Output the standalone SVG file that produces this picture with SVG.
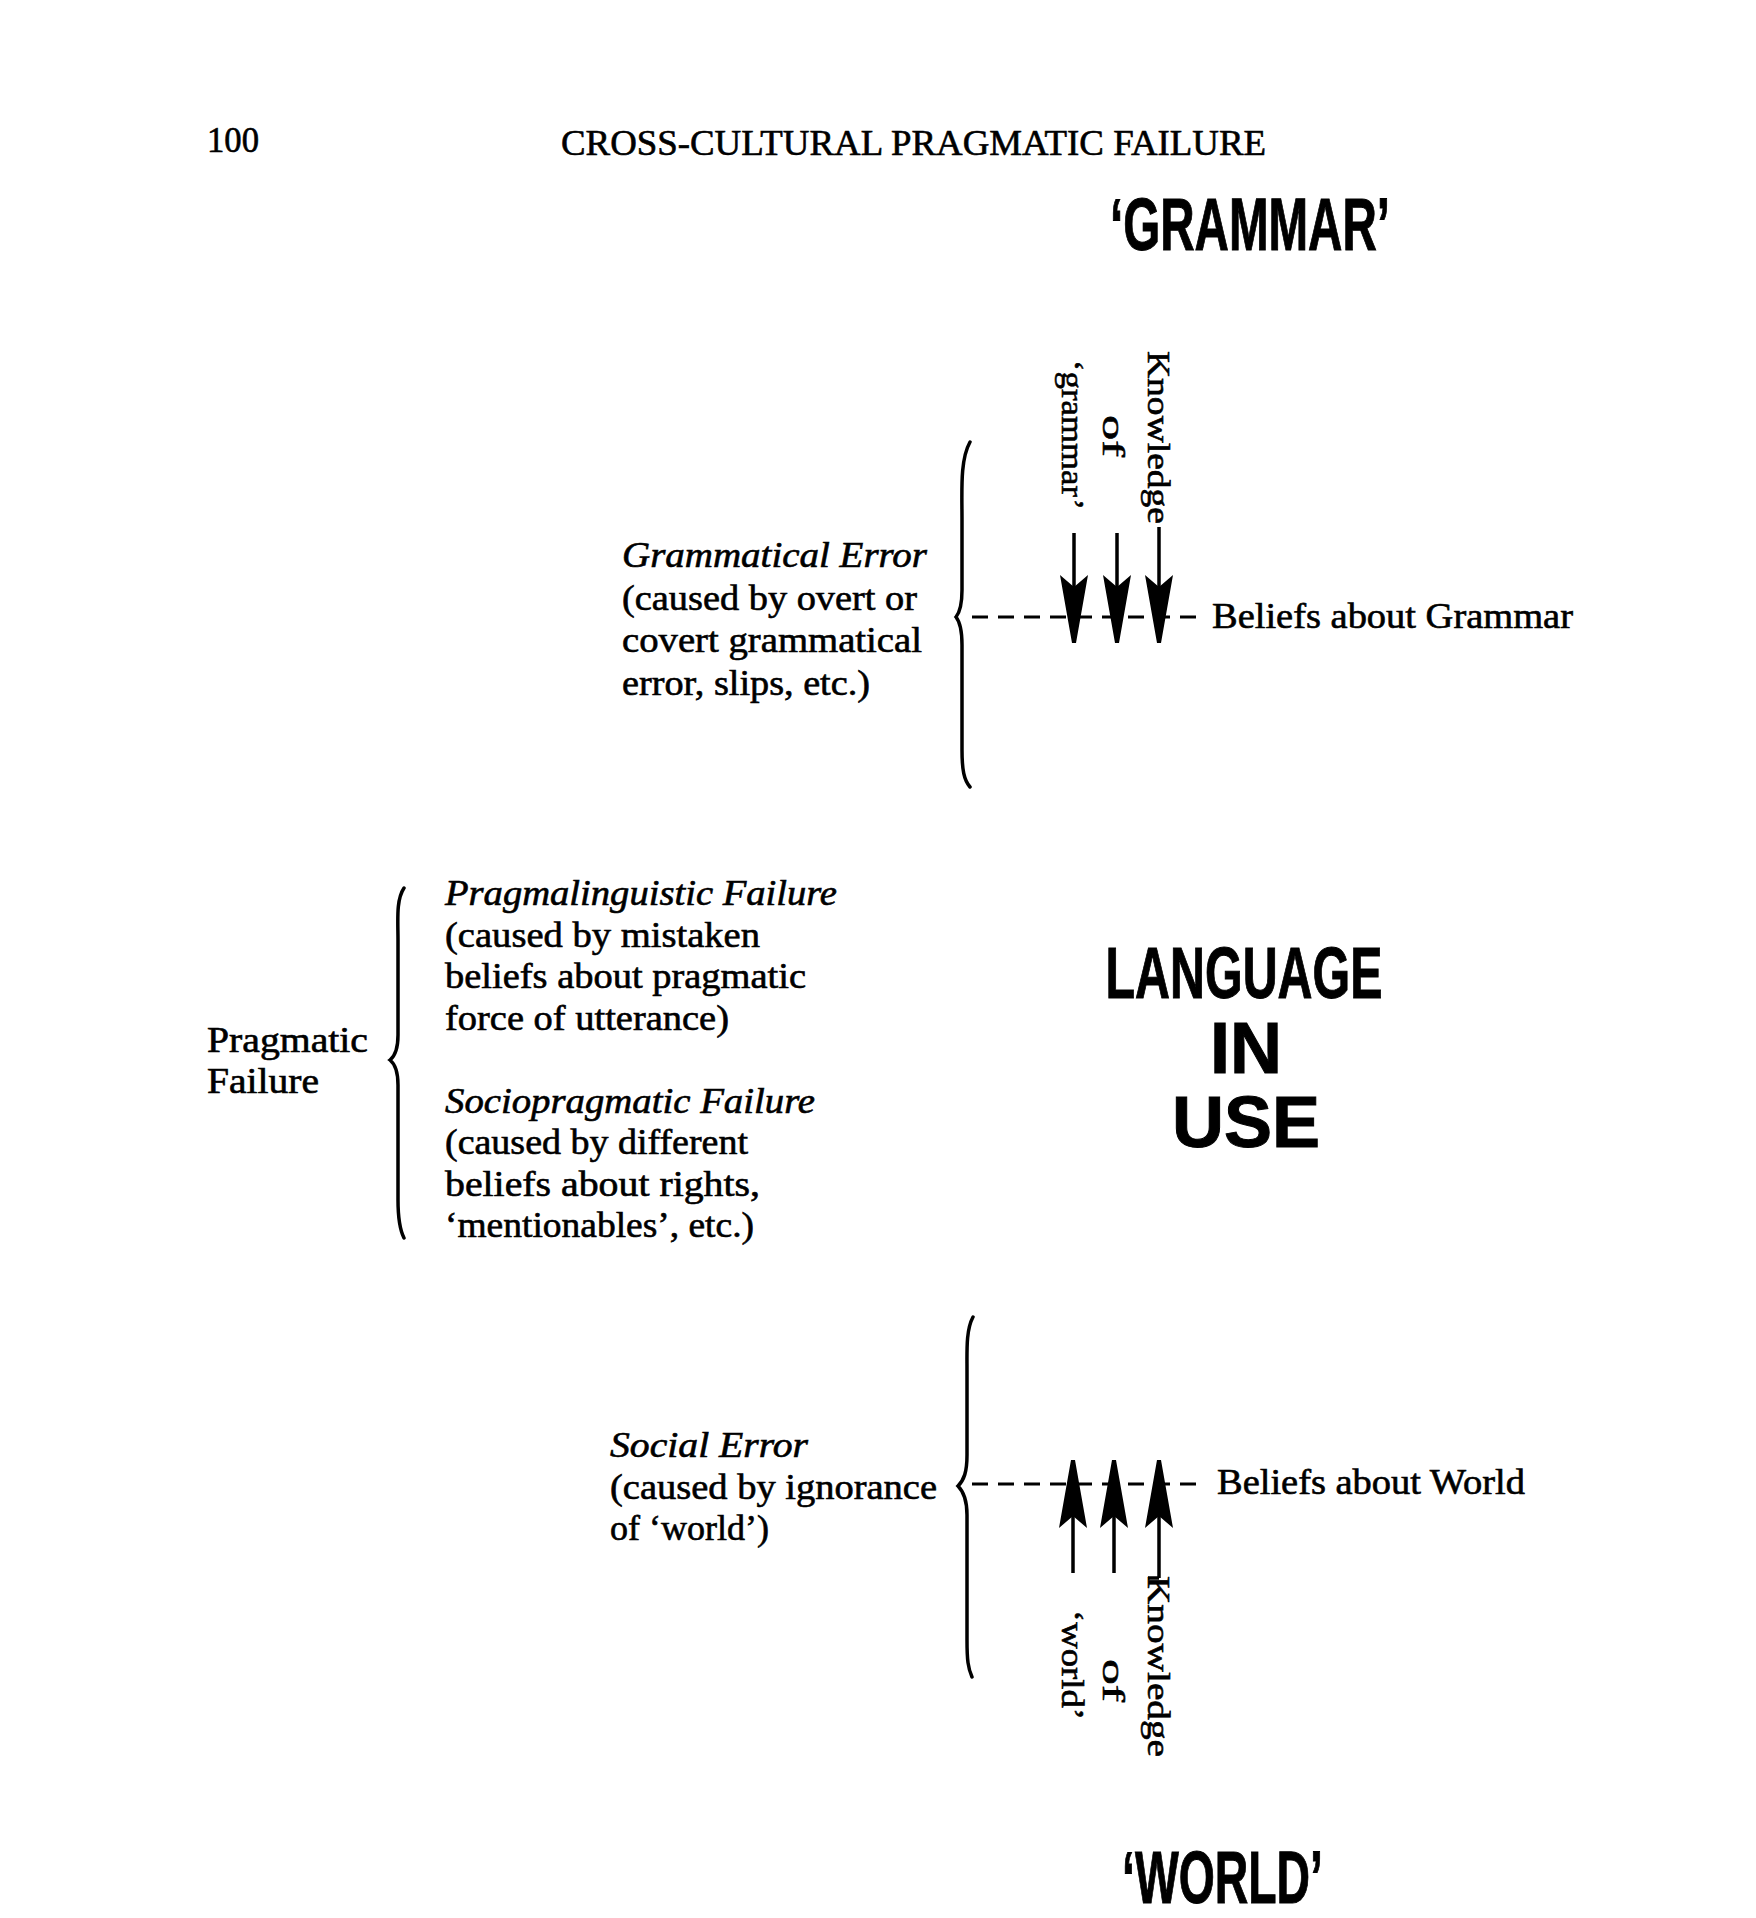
<svg xmlns="http://www.w3.org/2000/svg" width="1756" height="1918" viewBox="0 0 1756 1918">
<style>
.t{font-family:"Liberation Serif","Times New Roman",serif;font-size:35px;fill:#000;stroke:#000;stroke-width:0.6}
.i{font-style:italic}
.big{font-family:"Liberation Sans Narrow","Liberation Sans",Arial,sans-serif;font-weight:bold;fill:#000;stroke:#000;stroke-width:1}
.v{font-family:"Liberation Serif","Times New Roman",serif;font-size:32px;fill:#000;stroke:#000;stroke-width:0.6}
.br{fill:none;stroke:#000;stroke-width:3.5;stroke-linecap:round}
.sh{stroke:#000;stroke-width:3.5}
.dash{stroke:#000;stroke-width:3;stroke-dasharray:16 10}
</style>
<defs>
<polygon id="headDown" points="-14,0 0,12 14,0 2,68 -2,68" fill="#000"/>
</defs>
<rect width="1756" height="1918" fill="#fff"/>
<g id="header">
<text class="t" x="207" y="152" textLength="52" lengthAdjust="spacingAndGlyphs">100</text>
<text class="t" x="561" y="155" textLength="705" lengthAdjust="spacingAndGlyphs">CROSS-CULTURAL PRAGMATIC FAILURE</text>
</g>
<g id="grammar-title"><text class="big" x="1110" y="250" font-size="74" textLength="280" lengthAdjust="spacingAndGlyphs">‘GRAMMAR’</text></g>
<g id="language-in-use">
<text class="big" x="1244" y="998" font-size="72" text-anchor="middle" textLength="277" lengthAdjust="spacingAndGlyphs">LANGUAGE</text>
<text class="big" x="1246" y="1073" font-size="72" text-anchor="middle">IN</text>
<text class="big" x="1246" y="1147" font-size="72" text-anchor="middle">USE</text>
</g>
<g id="world-title"><text class="big" x="1122" y="1903" font-size="74" textLength="201" lengthAdjust="spacingAndGlyphs">‘WORLD’</text></g>
<g id="grammatical-error">
<text class="t i" x="622" y="567" textLength="305" lengthAdjust="spacingAndGlyphs">Grammatical Error</text>
<text class="t" x="622" y="610" textLength="295" lengthAdjust="spacingAndGlyphs">(caused by overt or</text>
<text class="t" x="622" y="652" textLength="300" lengthAdjust="spacingAndGlyphs">covert grammatical</text>
<text class="t" x="622" y="695" textLength="248" lengthAdjust="spacingAndGlyphs">error, slips, etc.)</text>
</g>
<g id="pragmatic-failure">
<text class="t" x="207" y="1052" textLength="161" lengthAdjust="spacingAndGlyphs">Pragmatic</text>
<text class="t" x="207" y="1093" textLength="112" lengthAdjust="spacingAndGlyphs">Failure</text>
</g>
<g id="pragmalinguistic">
<text class="t i" x="445" y="905" textLength="392" lengthAdjust="spacingAndGlyphs">Pragmalinguistic Failure</text>
<text class="t" x="445" y="947" textLength="315" lengthAdjust="spacingAndGlyphs">(caused by mistaken</text>
<text class="t" x="445" y="988" textLength="361" lengthAdjust="spacingAndGlyphs">beliefs about pragmatic</text>
<text class="t" x="445" y="1030" textLength="284" lengthAdjust="spacingAndGlyphs">force of utterance)</text>
</g>
<g id="sociopragmatic">
<text class="t i" x="445" y="1113" textLength="370" lengthAdjust="spacingAndGlyphs">Sociopragmatic Failure</text>
<text class="t" x="445" y="1154" textLength="303" lengthAdjust="spacingAndGlyphs">(caused by different</text>
<text class="t" x="445" y="1196" textLength="315" lengthAdjust="spacingAndGlyphs">beliefs about rights,</text>
<text class="t" x="445" y="1237" textLength="309" lengthAdjust="spacingAndGlyphs">‘mentionables’, etc.)</text>
</g>
<g id="social-error">
<text class="t i" x="610" y="1457" textLength="198" lengthAdjust="spacingAndGlyphs">Social Error</text>
<text class="t" x="610" y="1499" textLength="327" lengthAdjust="spacingAndGlyphs">(caused by ignorance</text>
<text class="t" x="610" y="1540" textLength="159" lengthAdjust="spacingAndGlyphs">of ‘world’)</text>
</g>
<g id="beliefs-grammar"><text class="t" x="1212" y="628" textLength="361" lengthAdjust="spacingAndGlyphs">Beliefs about Grammar</text></g>
<g id="beliefs-world"><text class="t" x="1217" y="1494" textLength="308" lengthAdjust="spacingAndGlyphs">Beliefs about World</text></g>
<g id="knowledge-grammar">
<text class="v" transform="translate(1148,351) rotate(90)" textLength="173" lengthAdjust="spacingAndGlyphs">Knowledge</text>
<text class="v" transform="translate(1103,415) rotate(90)" textLength="42" lengthAdjust="spacingAndGlyphs">of</text>
<text class="v" transform="translate(1062,360) rotate(90)" textLength="150" lengthAdjust="spacingAndGlyphs">‘grammar’</text>
</g>
<g id="knowledge-world">
<text class="v" transform="translate(1148,1576) rotate(90)" textLength="181" lengthAdjust="spacingAndGlyphs">Knowledge</text>
<text class="v" transform="translate(1103,1659) rotate(90)" textLength="43" lengthAdjust="spacingAndGlyphs">of</text>
<text class="v" transform="translate(1062,1610) rotate(90)" textLength="110" lengthAdjust="spacingAndGlyphs">‘world’</text>
</g>
<g id="connectors">
<path class="br" d="M970,442 C960,460 962,490 962,520 L962,590 C962,605 960,612 956,617 C960,622 962,630 962,645 L962,750 C962,770 964,780 970,787"/>
<path class="br" d="M404,888 C396,900 398,920 398,940 L398,1035 C398,1050 395,1056 390,1060 C395,1064 398,1070 398,1085 L398,1200 C398,1220 400,1230 404,1238"/>
<path class="br" d="M973,1317 C966,1330 967,1350 967,1370 L967,1455 C967,1472 964,1480 958,1486 C964,1492 967,1500 967,1515 L967,1640 C967,1660 968,1668 972,1677"/>
<line class="dash" x1="972" y1="617" x2="1200" y2="617"/>
<line class="dash" x1="972" y1="1484" x2="1205" y2="1484"/>
<line class="sh" x1="1074" y1="533" x2="1074" y2="590"/>
<line class="sh" x1="1117" y1="533" x2="1117" y2="590"/>
<line class="sh" x1="1159" y1="527" x2="1159" y2="590"/>
<use href="#headDown" transform="translate(1074,575)"/>
<use href="#headDown" transform="translate(1117,575)"/>
<use href="#headDown" transform="translate(1159,575)"/>
<line class="sh" x1="1073" y1="1505" x2="1073" y2="1573"/>
<line class="sh" x1="1114" y1="1505" x2="1114" y2="1573"/>
<line class="sh" x1="1159" y1="1505" x2="1159" y2="1578"/>
<line class="sh" x1="1159" y1="1578" x2="1148" y2="1578"/>
<use href="#headDown" transform="translate(1073,1528) scale(1,-1)"/>
<use href="#headDown" transform="translate(1114,1528) scale(1,-1)"/>
<use href="#headDown" transform="translate(1159,1528) scale(1,-1)"/>
</g>
</svg>
